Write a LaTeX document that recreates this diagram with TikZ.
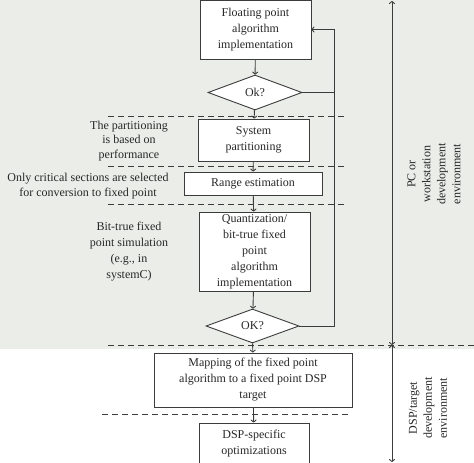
\documentclass[tikz,border=0pt]{standalone}
\usepackage{fontspec}
\setmainfont{Liberation Serif}
\usetikzlibrary{shapes.geometric,arrows.meta}
\definecolor{bgg}{RGB}{235,237,232}
\definecolor{lined}{RGB}{60,60,60}
\definecolor{textd}{RGB}{40,40,40}

\begin{document}
\begin{tikzpicture}[x=1pt,y=-1pt,
    box/.style={draw=lined, fill=white, line width=0.9pt, align=center, inner sep=2pt, text=textd, font=\fontsize{12}{16}\selectfont},
    test/.style={diamond, draw=lined, fill=white, line width=0.9pt, inner sep=0pt, text=textd, font=\fontsize{12}{16}\selectfont},
    note/.style={align=center, text=textd, font=\fontsize{12}{14.5}\selectfont},
    sep/.style={draw=lined, dash pattern=on 6pt off 4pt, line width=0.8pt},
    flow/.style={draw=lined, line width=0.9pt, -{To[length=3pt,width=6pt]}}]
                    \useasboundingbox (0,0) rectangle (474,463);
                    \fill[bgg] (0,0) rectangle (474,349);
                    % dashed separators
                    \draw[sep] (108,116) -- (344,116);
                    \draw[sep] (108,166) -- (344,166);
                    \draw[sep] (108,204) -- (344,204);
                    \draw[sep] (108,345) -- (474,345);
                    \draw[sep] (102,414) -- (351,414);
                    % flow
                    \node[box, minimum width=111pt, minimum height=59pt] (float) at (255.5,29.5) {Floating point\\algorithm\\implementation};
                    \node[test, minimum width=94pt, minimum height=35pt] (ok1) at (255,92.5) {Ok?};
                    \node[box, minimum width=111pt, minimum height=42pt] (sys) at (253.5,140) {System\\partitioning};
                    \node[box, minimum width=138pt, minimum height=23pt] (range) at (253,183.5) {Range estimation};
                    \node[box, minimum width=111pt, minimum height=79pt] (quant) at (254.5,251.5) {Quantization/\\bit-true fixed\\point\\algorithm\\implementation};
                    \node[test, minimum width=93pt, minimum height=34pt] (ok2) at (252.5,326) {OK?};
                    \node[box, minimum width=198pt, minimum height=54pt] (map) at (253,380) {Mapping of the fixed point\\algorithm to a fixed point DSP\\target};
                    \node[box, minimum width=110pt, minimum height=41pt] (dsp) at (254,443.5) {DSP-specific\\optimizations};
                    \draw[flow] (float) -- (ok1);
                    \draw[flow] (ok1) -- (sys);
                    \draw[flow] (sys) -- (range);
                    \draw[flow] (range) -- (quant);
                    \draw[flow] (quant) -- (ok2);
                    \draw[flow] (ok2) -- (map);
                    \draw[flow] (map) -- (dsp);
                    % feedback loops
                    \coordinate (fb) at (334,0);
                    \draw[flow] (ok2.east) -| (fb |- float.east) -- (float.east);
                    \draw[draw=lined, line width=0.9pt] (ok1.east) -- (ok1.east -| fb);
                    % notes
                    \node[note] (n1) at (129,141) {The partitioning\\is based on\\performance};
                    \node[note] (n2) at (88,186) {Only critical sections are selected\\for conversion to fixed point};
                    \node[note, font=\fontsize{12}{16}\selectfont] (n3) at (129,252) {Bit-true fixed\\point simulation\\(e.g., in\\systemC)};
                    % environments
                    \coordinate (envtop) at (392,1);
                    \coordinate (envmid) at (392,345);
                    \coordinate (envbot) at (392,462);
                    \draw[flow, {To[length=3pt,width=6pt]}-{To[length=3pt,width=6pt]}] (envtop) -- (envmid);
                    \draw[flow, {To[length=3pt,width=6pt]}-{To[length=3pt,width=6pt]}] (envmid) -- (envbot);
                    \node[note, rotate=90, font=\fontsize{12}{15}\selectfont] (pc) at (434,174) {PC or\\workstation\\development\\environment};
                    \node[note, rotate=90, font=\fontsize{12}{15}\selectfont] (dspenv) at (428,408) {DSP/target\\development\\environment};
                \end{tikzpicture}
\end{document}
